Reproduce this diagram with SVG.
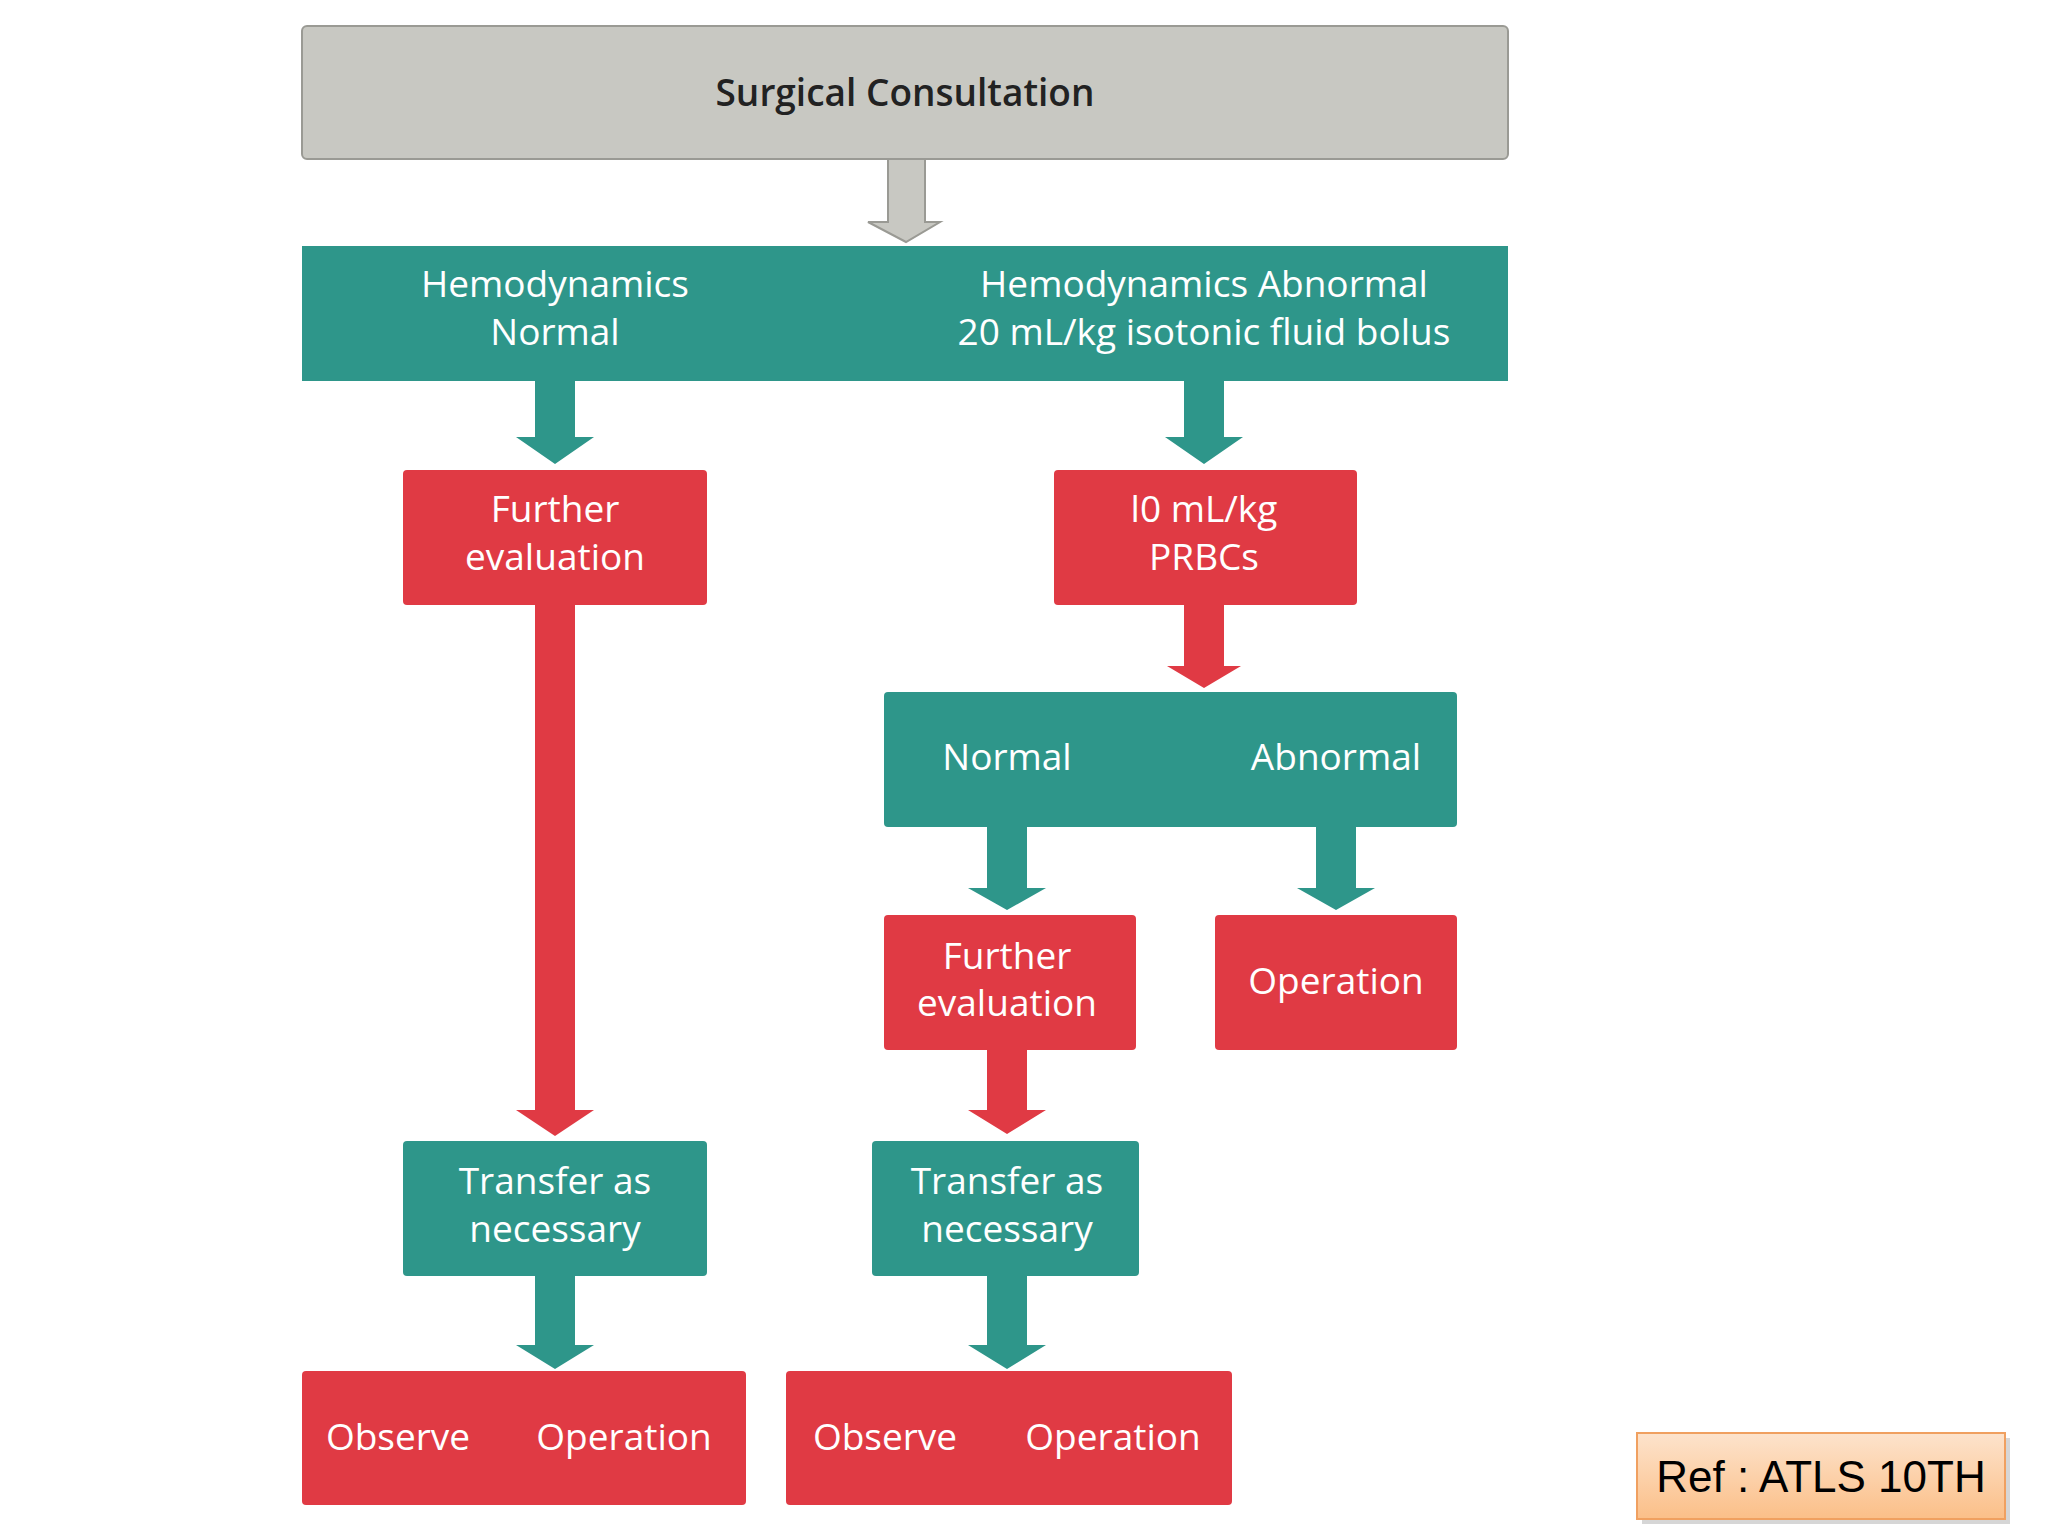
<svg xmlns="http://www.w3.org/2000/svg" width="2048" height="1536" viewBox="0 0 2048 1536">
<defs>
<style>
.t{font-family:"Open Sans","Noto Sans",sans-serif;font-size:37px;fill:#fff;text-anchor:middle}
.teal{fill:#2e968a}
.red{fill:#e03a44}
</style>
<linearGradient id="og" x1="0" y1="0" x2="0" y2="1"><stop offset="0" stop-color="#fde3cc"/><stop offset="1" stop-color="#fbbf88"/></linearGradient>
</defs>
<rect width="2048" height="1536" fill="#fff"/>
<g id="connectors">
<polygon points="888,159 925,159 925,222 940,222 906,242 868,222 888,222" fill="#c8c8c2" stroke="#9a9a94" stroke-width="2"/>
<polygon class="teal" points="535,381 575,381 575,437 594,437 555,464 516,437 535,437"/>
<polygon class="teal" points="1184,381 1224,381 1224,437 1243,437 1204,464 1165,437 1184,437"/>
<polygon class="red" points="1184,605 1224,605 1224,666 1241,666 1204,688 1167,666 1184,666"/>
<polygon class="red" points="535,605 575,605 575,1110 594,1110 555,1136 516,1110 535,1110"/>
<polygon class="teal" points="987,827 1027,827 1027,888 1046,888 1007,910 968,888 987,888"/>
<polygon class="teal" points="1316,827 1356,827 1356,888 1375,888 1336,910 1297,888 1316,888"/>
<polygon class="red" points="987,1050 1027,1050 1027,1110 1046,1110 1007,1134 968,1110 987,1110"/>
<polygon class="teal" points="535,1276 575,1276 575,1345 594,1345 555,1369 516,1345 535,1345"/>
<polygon class="teal" points="987,1276 1027,1276 1027,1345 1046,1345 1007,1369 968,1345 987,1345"/>
</g>
<g id="consult"><rect x="302" y="26" width="1206" height="133" rx="5" fill="#c8c8c2" stroke="#9a9a94" stroke-width="2"/><text class="t" x="905" y="106" style="fill:#222;font-weight:600">Surgical Consultation</text></g>
<g id="hemo"><rect class="teal" x="302" y="246" width="1206" height="135"/><text class="t" x="555" y="297">Hemodynamics</text><text class="t" x="555" y="345">Normal</text><text class="t" x="1204" y="297">Hemodynamics Abnormal</text><text class="t" x="1204" y="345">20 mL/kg isotonic fluid bolus</text></g>
<g id="fe1"><rect class="red" x="403" y="470" width="304" height="135" rx="4"/><text class="t" x="555" y="522">Further</text><text class="t" x="555" y="570">evaluation</text></g>
<g id="prbc"><rect class="red" x="1054" y="470" width="303" height="135" rx="4"/><text class="t" x="1204" y="522">l0 mL/kg</text><text class="t" x="1204" y="570">PRBCs</text></g>
<g id="na"><rect class="teal" x="884" y="692" width="573" height="135" rx="4"/><text class="t" x="1007" y="770">Normal</text><text class="t" x="1336" y="770">Abnormal</text></g>
<g id="fe2"><rect class="red" x="884" y="915" width="252" height="135" rx="4"/><text class="t" x="1007" y="969">Further</text><text class="t" x="1007" y="1016">evaluation</text></g>
<g id="op"><rect class="red" x="1215" y="915" width="242" height="135" rx="4"/><text class="t" x="1336" y="994">Operation</text></g>
<g id="tr1"><rect class="teal" x="403" y="1141" width="304" height="135" rx="4"/><text class="t" x="555" y="1194">Transfer as</text><text class="t" x="555" y="1242">necessary</text></g>
<g id="tr2"><rect class="teal" x="872" y="1141" width="267" height="135" rx="4"/><text class="t" x="1007" y="1194">Transfer as</text><text class="t" x="1007" y="1242">necessary</text></g>
<g id="oo1"><rect class="red" x="302" y="1371" width="444" height="134" rx="4"/><text class="t" x="398" y="1450">Observe</text><text class="t" x="624" y="1450">Operation</text></g>
<g id="oo2"><rect class="red" x="786" y="1371" width="446" height="134" rx="4"/><text class="t" x="885" y="1450">Observe</text><text class="t" x="1113" y="1450">Operation</text></g>
<g id="ref"><rect x="1642" y="1438" width="368" height="86" fill="#bbb" opacity="0.6"/><rect x="1637" y="1433" width="368" height="86" fill="url(#og)" stroke="#f0a060" stroke-width="2"/><text x="1821" y="1492" style="font-family:'Liberation Sans',sans-serif;font-size:44px;fill:#000;text-anchor:middle">Ref : ATLS 10TH</text></g>
</svg>
